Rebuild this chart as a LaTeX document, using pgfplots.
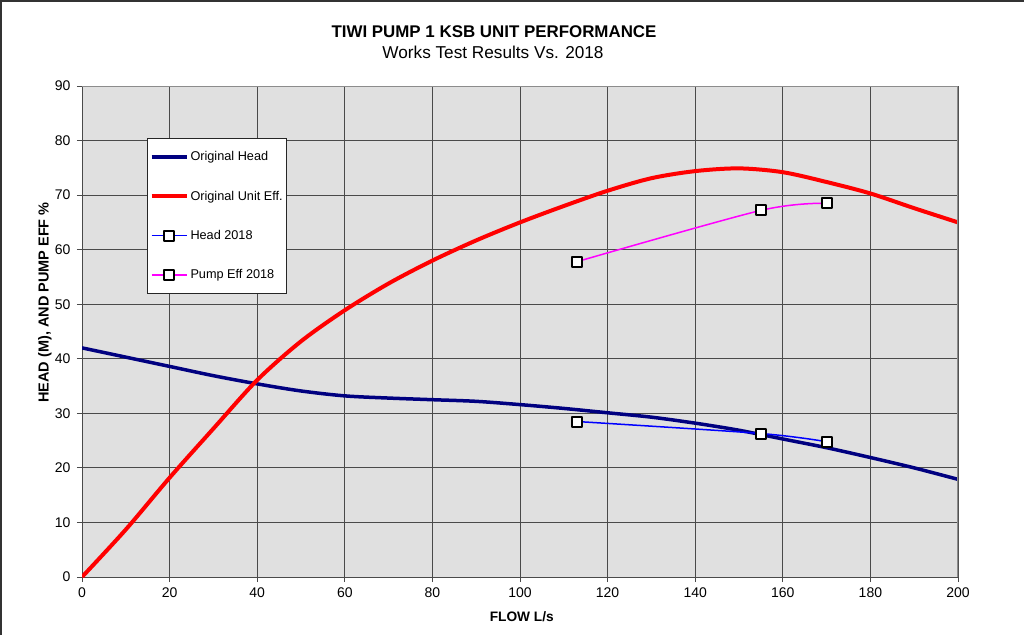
\documentclass[border=0pt]{standalone}
\usepackage{pgfplots}
\pgfplotsset{compat=1.18}
\usepackage{fontspec}
\setmainfont{Liberation Sans}
\definecolor{bggrey}{HTML}{E0E0E0}
\definecolor{gridgrey}{HTML}{4A4A4A}
\definecolor{framegrey}{HTML}{8C8C8C}
\definecolor{navyline}{HTML}{000080}
\definecolor{magline}{RGB}{255,0,255}
\definecolor{blueline}{RGB}{0,0,255}
\definecolor{redline}{RGB}{255,0,0}
\begin{document}
\begin{tikzpicture}[x=1pt,y=1pt]
\useasboundingbox (0,0) rectangle (1024,635);
\draw[line width=2pt, color=black!80] (1,0) -- (1,634) -- (1024,634);
\node[font=\fontsize{16.9}{18}\selectfont\bfseries] at (494,603) {TIWI PUMP 1 KSB UNIT PERFORMANCE};
\node[font=\fontsize{17.2}{19}\selectfont] at (493,583) {Works Test Results Vs. 2018};
\begin{axis}[
  at={(82pt,58pt)}, anchor=south west, scale only axis,
  width=876pt, height=491pt,
  xmin=0, xmax=200, ymin=0, ymax=90,
  xtick distance=20, ytick distance=10,
  xtick pos=bottom, ytick pos=left,
  axis background/.style={fill=bggrey},
  grid=major,
  major grid style={gridgrey, line width=1pt},
  axis line style={gridgrey, line width=1pt},
  tick align=outside, major tick length=5pt,
  tick style={gridgrey, line width=1pt},
  /pgf/number format/assume math mode=true,
  tick label style={font=\fontsize{14}{16}\selectfont},
  yticklabel style={xshift=-3pt},
  xticklabel style={yshift=-2pt},
  xlabel={\bfseries FLOW L/s},
  ylabel={\bfseries HEAD (M), AND PUMP EFF \%},
  xlabel style={font=\fontsize{13.7}{16}\selectfont, at={(axis description cs:0.502,0)}, anchor=center, yshift=-40pt},
  ylabel style={font=\fontsize{14.5}{16}\selectfont, at={(axis description cs:0,0.559)}, anchor=center, yshift=37pt},
  legend style={at={(0.0742,0.894)}, anchor=north west, draw=black!85, line width=1pt,
    fill=white, font=\fontsize{12.7}{14}\selectfont, row sep=24.6pt,
    inner xsep=2pt, inner ysep=11pt, cells={anchor=west}},
  legend image code/.code={\draw[mark repeat=2,mark phase=2,#1] plot coordinates {(0pt,0pt) (17.5pt,0pt) (35pt,0pt)};},
  every axis plot/.append style={line join=round},
]
\addplot[navyline, line width=3.5pt, smooth] coordinates {
(0,42) (10,40.3) (20,38.6) (30,36.9) (40,35.4) (50,34.1) (60,33.2) (70,32.8) (80,32.5) (90,32.2)
(100,31.6) (110,30.9) (120,30.1) (130,29.3) (140,28.2) (150,26.9) (160,25.3) (170,23.7) (180,21.9) (190,20.0) (200,17.9)};
\addlegendentry{Original Head}
\addplot[redline, line width=4pt, smooth] coordinates {
(0,0) (10,8.7) (20,18.2) (30,27.2) (40,36.1) (50,43.2) (60,48.9) (70,53.8) (80,58.0) (90,61.7)
(100,65.0) (110,68.0) (120,70.8) (130,73.1) (140,74.4) (150,74.9) (160,74.2) (170,72.4) (180,70.3) (190,67.6) (200,65.0)};
\addlegendentry{Original Unit Eff.}
\addplot[blueline, line width=1.5pt, smooth, mark=square*, mark size=5pt,
  mark options={fill=white, draw=black, line width=2pt}] coordinates {
(113,28.5) (155,26.3) (170,24.8)};
\addlegendentry{Head 2018}
\addplot[magline, line width=1.5pt, smooth, mark=square*, mark size=5pt,
  mark options={fill=white, draw=black, line width=2pt}] coordinates {
(113,57.8) (155,67.2) (170,68.5)};
\addlegendentry{Pump Eff 2018}
\draw[framegrey, line width=2pt] (rel axis cs:0,1) -- (rel axis cs:1,1) -- (rel axis cs:1,0);
\end{axis}
\end{tikzpicture}
\end{document}
